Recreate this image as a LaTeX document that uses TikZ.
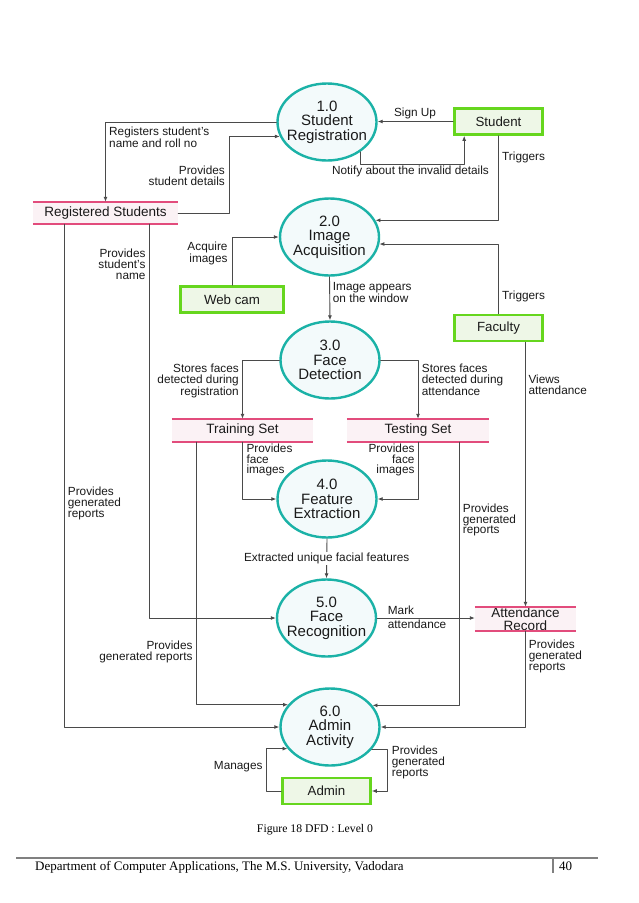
\documentclass[tikz,border=0pt]{standalone}
\usepackage{fontspec}
\setmainfont{Liberation Sans}
\newfontfamily\serifface{Liberation Serif}
\usepackage{tikz}
\usetikzlibrary{shapes.geometric,arrows.meta}
\definecolor{procline}{HTML}{1BB2A7}
\definecolor{procfill}{HTML}{F3FAFB}
\definecolor{storeline}{HTML}{E24C7C}
\definecolor{storefill}{HTML}{FBF2F5}
\definecolor{entline}{HTML}{66D61E}
\definecolor{entfill}{HTML}{EEF7E7}
\definecolor{flowc}{HTML}{4A4A4A}
\definecolor{txtc}{HTML}{1A1A1A}
\definecolor{footc}{HTML}{808080}

\begin{document}
\begin{tikzpicture}[x=1pt,y=-1pt,line cap=round,line join=round,>={Latex[length=5pt,width=4pt]},
  process/.style={ellipse,draw=procline,fill=procfill,line width=2.4pt,minimum width=99pt,minimum height=77pt,inner sep=0pt},
  proctxt/.style={font=\fontsize{15}{14.5}\selectfont,align=center,inner sep=0pt,text=txtc},
  store/.style={fill=storefill,inner sep=0pt,minimum height=22pt,font=\fontsize{13.5}{12.6}\selectfont,align=center,text=txtc},
  storeedge/.style={draw=storeline,line width=2.4pt,line cap=butt},
  entity/.style={draw=entline,fill=entfill,line width=2.6pt,line join=miter,inner sep=0pt,minimum width=88pt,minimum height=26pt,font=\fontsize{13.3}{14}\selectfont,text=txtc},
  flow/.style={->,draw=flowc,line width=0.9pt},
  lbl/.style={font=\fontsize{11.8}{10.9}\selectfont,inner sep=0pt,text=txtc},
  footer/.style={font=\serifface\fontsize{13}{15}\selectfont,inner sep=0pt,text=black}]
\fill[white] (0,0) rectangle (638,903);
\useasboundingbox (0,0) rectangle (638,903);
% processes
\node[process,label={[proctxt]center:1.0\\Student\\Registration}] (p1) at (327,122) {};
\node[process,label={[proctxt]center:2.0\\Image\\Acquisition}] (p2) at (329.5,237) {};
\node[process,label={[proctxt]center:3.0\\Face\\Detection}] (p3) at (330,360) {};
\node[process,label={[proctxt]center:4.0\\Feature\\Extraction}] (p4) at (327,499) {};
\node[process,label={[proctxt]center:5.0\\Face\\Recognition}] (p5) at (326.5,618) {};
\node[process,label={[proctxt]center:6.0\\Admin\\Activity}] (p6) at (330,727) {};
% data stores
\node[store,minimum width=145pt] (rs) at (105.5,213) {Registered Students};
\node[store,minimum width=141pt,minimum height=23pt] (ts) at (242.5,430.5) {Training Set};
\node[store,minimum width=142pt,minimum height=23pt] (tt) at (418,430.5) {Testing Set};
\node[store,minimum width=101pt,minimum height=24pt] (ar) at (525.5,619) {Attendance\\Record};
\foreach \s in {rs,ts,tt,ar}
  \draw[storeedge] (\s.north west) -- (\s.north east) (\s.south west) -- (\s.south east);
% entities
\node[entity] (student) at (498.5,121.5) {Student};
\node[entity,minimum width=103pt] (webcam) at (232,299.5) {Web cam};
\node[entity] (faculty) at (498.5,328) {Faculty};
\node[entity] (admin) at (326.5,791) {Admin};
% flows
\draw[flow] (p1.west) -| (rs.north);
\draw[flow] (rs.east) -- ++(51,0) |- (p1.197);
\draw[flow] (student.west) -- (student.west -| p1.east);
\draw[flow] (p1.318) -- ++(0,12) -| ([xshift=11pt]student.south west);
\draw[flow] (student.south) |- (p2.20);
\draw[flow] (faculty.north) |- (p2.352);
\draw[flow] (webcam.north) |- (p2.west);
\draw[flow] (p2.south) -- (p3.north);
\draw[flow] (p3.west) -| (ts.north);
\draw[flow] (p3.east) -| (tt.north);
\draw[flow] (ts.south) |- (p4.west);
\draw[flow] (tt.south) |- (p4.east);
\draw[flow] (p4.south) -- (p5.north) node[lbl,midway,fill=white,inner sep=1pt] (l17) {Extracted unique facial features};
\draw[flow] ([xshift=44pt]rs.south) |- (p5.west);
\draw[flow] ([xshift=-41pt]rs.south) |- (p6.west);
\draw[flow] ([xshift=-46.5pt]ts.south) |- (p6.152.5);
\draw[flow] ([xshift=41.3pt]tt.south) |- (p6.27.5);
\draw[flow] (ar.south) |- (p6.east);
\draw[flow] (ar.north |- faculty.south) -- (ar.north);
\draw[flow] (p5.east) -- (p5.east -| ar.west);
\draw[flow] (admin.west) -- ++(-15,0) |- (p6.207.5);
\draw[flow] (p6.332.5) -| ([xshift=16pt]admin.east) -- (admin.east);
% labels
\node[lbl,anchor=west,align=left] (l1) at (109,137.5) {Registers student's\\name and roll no};
\node[lbl,anchor=east,align=right] (l2) at (225,175.7) {Provides\\student details};
\node[lbl] (l3) at (415,113) {Sign Up};
\node[lbl] (l4) at (410.5,171) {Notify about the invalid details};
\node[lbl,anchor=west] (l5) at (502,157.7) {Triggers};
\node[lbl,anchor=east,align=right] (l6) at (145.7,264.1) {Provides\\student's\\name};
\node[lbl,anchor=east,align=right] (l7) at (227.7,253) {Acquire\\images};
\node[lbl,anchor=west,align=left] (l8) at (332.7,292) {Image appears\\on the window};
\node[lbl,anchor=west] (l9) at (502,296) {Triggers};
\node[lbl,anchor=east,align=right] (l10) at (239,380.9) {Stores faces\\detected during\\registration};
\node[lbl,anchor=west,align=left] (l11) at (421.7,380) {Stores faces\\detected during\\attendance};
\node[lbl,anchor=west,align=left] (l12) at (528.3,384.5) {Views\\attendance};
\node[lbl,anchor=west,align=left] (l13) at (246.3,460) {Provides\\face\\images};
\node[lbl,anchor=east,align=right] (l14) at (414.7,460) {Provides\\face\\images};
\node[lbl,anchor=west,align=left] (l15) at (67.7,503.5) {Provides\\generated\\reports};
\node[lbl,anchor=west,align=left] (l16) at (462.7,520) {Provides\\generated\\reports};
\node[lbl,anchor=west,align=left] (l18) at (387.7,617.5) {Mark\\[2.8pt]attendance};
\node[lbl,anchor=east,align=right] (l19) at (192.7,652) {Provides\\generated reports};
\node[lbl,anchor=west,align=left] (l20) at (528.7,656.3) {Provides\\generated\\reports};
\node[lbl,anchor=east] (l21) at (262.7,766.7) {Manages};
\node[lbl,anchor=west,align=left] (l22) at (391.7,762.6) {Provides\\generated\\reports};
% caption and footer
\node[footer,font=\serifface\fontsize{11.7}{14}\selectfont] (cap) at (315,830) {Figure 18 DFD : Level 0};
\draw[footc,line width=1.6pt,line cap=butt] (16,857.7) -- (598,857.7);
\draw[footc,line width=1.2pt,line cap=butt] (553,857.7) -- (553,873);
\node[footer,anchor=west] (dept) at (35,867.7) {Department of Computer Applications, The M.S. University, Vadodara};
\node[footer,anchor=west] (pgno) at (559,866.7) {40};
\end{tikzpicture}
\end{document}
